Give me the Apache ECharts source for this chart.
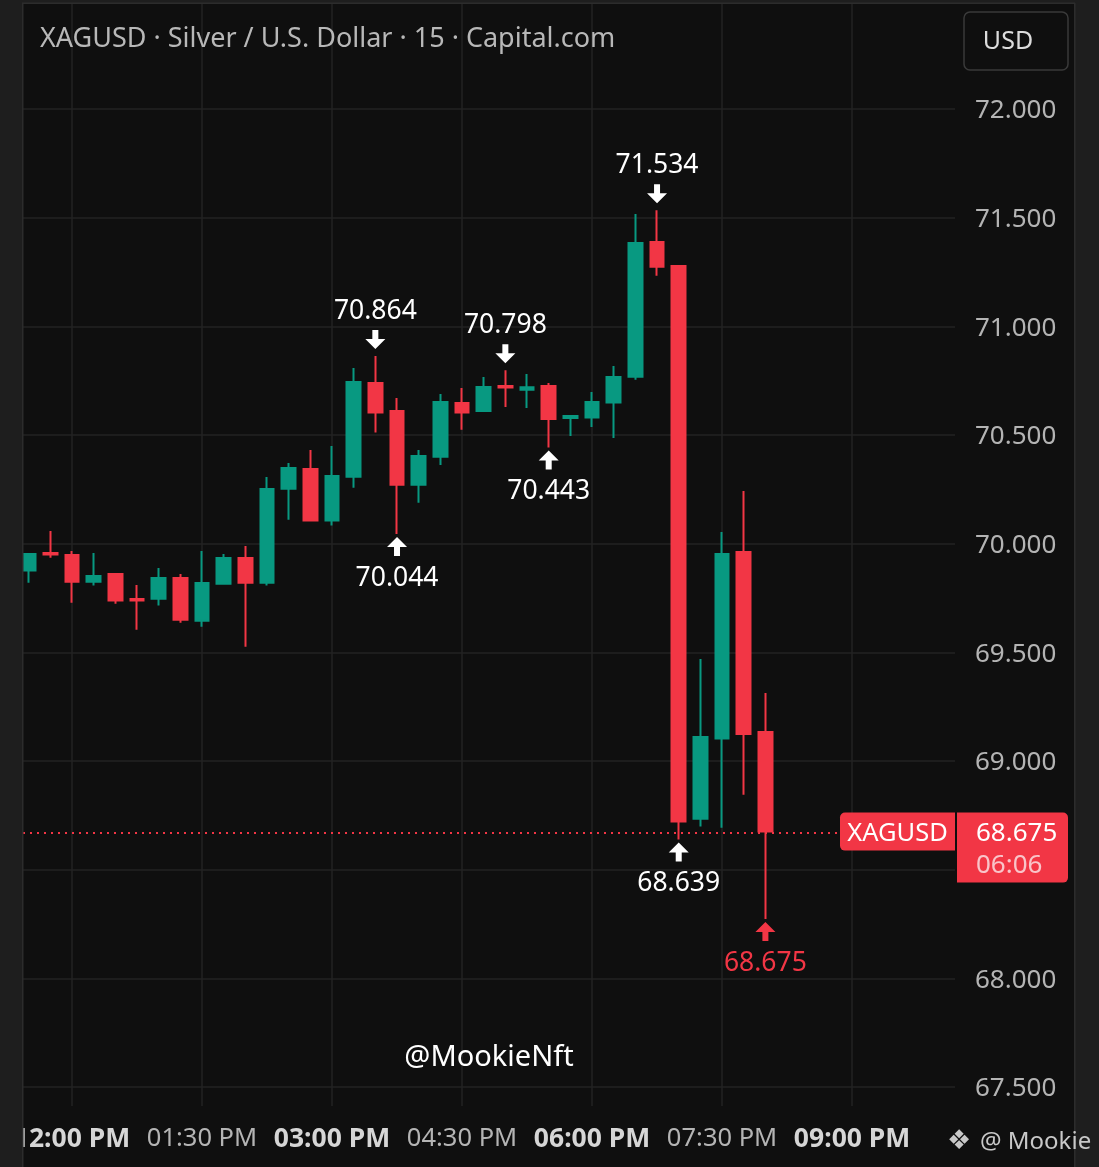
<!DOCTYPE html>
<html><head><meta charset="utf-8">
<script src="https://cdn.jsdelivr.net/npm/echarts@6/dist/echarts.min.js"></script>
<style>html,body{margin:0;padding:0;background:#1e1e1e;overflow:hidden}#c{width:1099px;height:1167px}</style>
</head><body><div id="c"></div>
<script>
// ---- data (15-minute bars, XAGUSD) ----
const barTimes = ['11:30','11:45','12:00','12:15','12:30','12:45','13:00','13:15','13:30','13:45',
  '14:00','14:15','14:30','14:45','15:00','15:15','15:30','15:45','16:00','16:15',
  '16:30','16:45','17:00','17:15','17:30','17:45','18:00','18:15','18:30','18:45',
  '19:00','19:15','19:30','19:45','20:00'];
const opens  = [69.876,69.957,69.948,69.825,69.860,69.745,69.747,69.842,69.645,69.816,
  69.934,69.820,70.253,70.344,70.106,70.308,70.739,70.610,70.271,70.400,
  70.647,70.610,70.725,70.708,70.725,70.578,70.580,70.649,70.768,71.388,
  71.278,68.734,69.103,69.962,69.133];
const closes = [69.952,69.950,69.825,69.851,69.738,69.738,69.842,69.650,69.819,69.934,
  69.820,70.252,70.348,70.106,70.311,70.744,70.603,70.271,70.403,70.652,
  70.603,70.721,70.718,70.720,70.574,70.587,70.652,70.767,71.383,71.274,
  68.721,69.110,69.952,69.124,68.675];
const lows   = [69.820,69.935,69.728,69.807,69.724,69.604,69.715,69.636,69.618,69.811,
  69.526,69.807,70.110,70.106,70.083,70.257,70.511,70.044,70.188,70.362,
  70.524,70.606,70.629,70.624,70.443,70.495,70.537,70.486,70.754,71.233,
  68.639,68.698,68.693,68.845,68.273];
const highs  = [69.957,70.058,69.966,69.957,69.860,69.810,69.888,69.860,69.966,69.952,
  69.989,70.307,70.371,70.431,70.449,70.808,70.864,70.670,70.431,70.689,
  70.716,70.767,70.798,70.781,70.739,70.587,70.698,70.817,71.517,71.534,
  71.278,69.469,70.054,70.242,69.313];
// time-axis tick labels (bar index -> label)
const timeTickBars   = [2, 8, 14, 20, 26, 32, 38];
const timeTickLabels = ['12:00 PM','01:30 PM','03:00 PM','04:30 PM','06:00 PM','07:30 PM','09:00 PM'];
const timeTickBold   = [true, false, true, false, true, false, true];
const priceTicks = [67.5, 68.0, 68.5, 69.0, 69.5, 70.0, 70.5, 71.0, 71.5, 72.0];
// high / low annotations
const annotBars   = [16, 17, 22, 24, 29, 30, 34];
const annotKinds  = ['high','low','high','low','high','low','low'];
const annotLabels = ['70.864','70.044','70.798','70.443','71.534','68.639','68.675'];
const annotRed    = [false,false,false,false,false,false,true];
const lastPrice = 68.675, lastPriceLabel = '68.675', countdown = '06:06', symbolName = 'XAGUSD';
const headerText = 'XAGUSD · Silver / U.S. Dollar · 15 · Capital.com';

// ---- view ----
const UP = '#089981', DOWN = '#f23645', GRIDC = '#232323';
const FONT = '"Noto Sans", sans-serif';
const xMin = -0.26, xMax = 42.75, yMin = 67.4125, yMax = 72.4877;

const candleData = opens.map((o, i) => [i, o, closes[i], lows[i], highs[i]]);
const arrowDown = 'path://M7,0 L13,0 L13,9 L20,9 L10,19 L0,9 L7,9 Z';
const arrowUp = 'path://M10,0 L20,10 L13,10 L13,19 L7,19 L7,10 L0,10 Z';
const markData = annotBars.map((b, k) => {
  const isHigh = annotKinds[k] === 'high';
  const col = annotRed[k] ? DOWN : '#ffffff';
  return {
    coord: [b, isHigh ? highs[b] : lows[b]],
    symbol: isHigh ? arrowDown : arrowUp,
    symbolSize: [20, 19],
    symbolOffset: [0, isHigh ? -16.5 : 12.5],
    itemStyle: {color: col},
    label: {show: true, position: isHigh ? 'top' : 'bottom', distance: isHigh ? 5 : 9,
      formatter: annotLabels[k], color: col, fontSize: 26.5, fontFamily: FONT}
  };
});

const chart = echarts.init(document.getElementById('c'), null, {renderer: 'canvas'});
chart.setOption({
  backgroundColor: '#0f0f0f',
  animation: false,
  grid: {left: 23, right: 144, top: 3, bottom: 61, containLabel: false},
  xAxis: {
    type: 'value', min: xMin, max: xMax,
    axisLine: {show: false},
    axisTick: {show: false, customValues: timeTickBars},
    splitLine: {show: true, lineStyle: {color: GRIDC, width: 1.5}},
    axisLabel: {
      customValues: timeTickBars, margin: 20,
      formatter: v => { const k = timeTickBars.indexOf(Math.round(v)); if (k < 0) return '';
        return timeTickBold[k] ? '{b|' + timeTickLabels[k] + '}' : '{n|' + timeTickLabels[k] + '}'; },
      rich: {
        b: {fontSize: 26.5, fontWeight: 'bold', color: '#d6d6d6', fontFamily: FONT},
        n: {fontSize: 25.5, color: '#b4b4b4', fontFamily: FONT}
      }
    }
  },
  yAxis: {
    type: 'value', position: 'right', min: yMin, max: yMax, scale: true,
    axisLine: {show: false},
    axisTick: {show: false, customValues: priceTicks},
    splitLine: {show: true, lineStyle: {color: GRIDC, width: 1.5}},
    axisLabel: {customValues: priceTicks, margin: 20, align: 'left',
      formatter: v => '{p|' + v.toFixed(3) + '}',
      rich: {p: {color: '#b4b4b4', fontSize: 26, fontFamily: FONT, padding: [4, 0, 0, 0]}}}
  },
  series: [{
    type: 'candlestick',
    data: candleData,
    dimensions: ['idx', 'open', 'close', 'lowest', 'highest'],
    encode: {x: 'idx', y: ['open', 'close', 'lowest', 'highest']},
    barWidth: 14,
    clip: true,
    itemStyle: {color: UP, color0: DOWN, borderColor: UP, borderColor0: DOWN, borderWidth: 2},
    markLine: {
      silent: true, symbol: 'none', animation: false,
      lineStyle: {color: DOWN, type: [2, 5], width: 2},
      label: {show: false},
      data: [{yAxis: lastPrice}]
    },
    markPoint: {silent: true, animation: false, data: markData}
  }]
});

// overlays: current price labels + frame
const py = chart.convertToPixel({yAxisIndex: 0}, lastPrice);
const plotRight = 1099 - 144;
const Z = 200;
chart.setOption({
  graphic: [
    {type: 'rect', z: Z, shape: {x: plotRight - 115, y: py - 19, width: 115, height: 38, r: [5, 0, 0, 5]}, style: {fill: DOWN}},
    {type: 'text', z: Z + 1, x: plotRight - 57.5, y: py + 2, style: {text: symbolName, fill: '#ffffff', fontSize: 25.5, fontFamily: FONT, align: 'center', verticalAlign: 'middle'}},
    {type: 'rect', z: Z, shape: {x: plotRight + 2, y: py - 19, width: 111, height: 70, r: [0, 5, 5, 0]}, style: {fill: DOWN}},
    {type: 'text', z: Z + 1, x: plotRight + 21, y: py + 2, style: {text: lastPriceLabel, fill: '#ffffff', fontSize: 26, fontFamily: FONT, align: 'left', verticalAlign: 'middle'}},
    {type: 'text', z: Z + 1, x: plotRight + 21, y: py + 34, style: {text: countdown, fill: '#f9c4c9', fontSize: 26, fontFamily: FONT, align: 'left', verticalAlign: 'middle'}},
    {type: 'text', z: Z, x: 40, y: 39, style: {text: headerText, fill: '#b8b8b8', fontSize: 27, fontFamily: FONT, align: 'left', verticalAlign: 'middle'}},
    {type: 'rect', z: Z, shape: {x: 964, y: 12, width: 104, height: 58, r: 6}, style: {fill: 'none', stroke: '#3a3a3a', lineWidth: 1.5}},
    {type: 'text', z: Z, x: 1008, y: 42, style: {text: 'USD', fill: '#dcdcdc', fontSize: 25, fontFamily: FONT, align: 'center', verticalAlign: 'middle'}},
    {type: 'text', z: Z, x: 489, y: 1058, style: {text: '@MookieNft', fill: '#ffffff', fontSize: 29, fontFamily: FONT, align: 'center', verticalAlign: 'middle'}},
    {type: 'rect', z: Z + 2, shape: {x: 0, y: 0, width: 23, height: 1167}, style: {fill: '#1e1e1e'}},
    {type: 'rect', z: Z + 2, shape: {x: 0, y: 0, width: 1099, height: 3}, style: {fill: '#1e1e1e'}},
    {type: 'rect', z: Z + 2, shape: {x: 1075, y: 0, width: 24, height: 1167}, style: {fill: '#1e1e1e'}},
    {type: 'rect', z: Z + 3, shape: {x: 22, y: 3, width: 1.5, height: 1164}, style: {fill: '#2c2c2c'}},
    {type: 'rect', z: Z + 3, shape: {x: 22, y: 2.5, width: 1053, height: 1.5}, style: {fill: '#2c2c2c'}},
    {type: 'rect', z: Z + 3, shape: {x: 1074, y: 3, width: 1.5, height: 1164}, style: {fill: '#2c2c2c'}},
    {type: 'text', z: Z + 4, x: 947, y: 1142, style: {text: '❖', fill: '#c8c8c8', fontSize: 27, fontFamily: '"DejaVu Sans", sans-serif', align: 'left', verticalAlign: 'middle'}},
    {type: 'text', z: Z + 4, x: 980, y: 1142, style: {text: '@ Mookie', fill: '#c8c8c8', fontSize: 24, fontFamily: FONT, align: 'left', verticalAlign: 'middle'}}
  ]
});
</script></body></html>
